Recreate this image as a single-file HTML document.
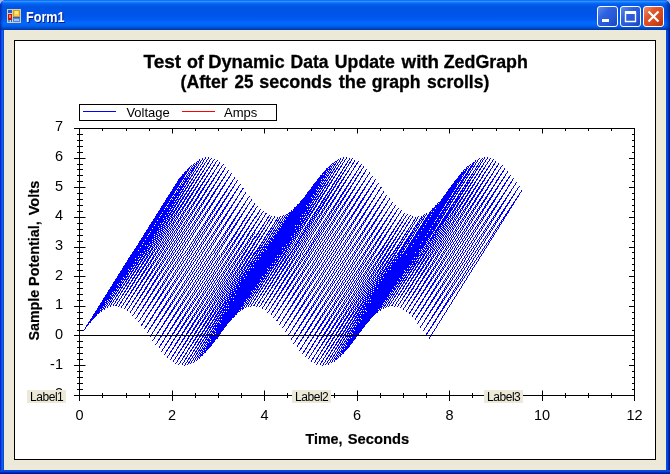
<!DOCTYPE html>
<html><head><meta charset="utf-8"><title>Form1</title>
<style>
html,body{margin:0;padding:0;background:#a3b5ee;}
body{width:670px;height:474px;overflow:hidden;position:relative;font-family:"Liberation Sans",sans-serif;}
#win{position:absolute;left:0;top:0;width:670px;height:474px;background:#0831d9;border-radius:6px 6px 0 0;overflow:hidden;}
#tb{position:absolute;left:0;top:0;width:670px;height:30px;border-radius:6px 6px 0 0;
background:linear-gradient(to bottom,#0058ee 0%,#3593ff 4%,#288eff 6%,#127dff 8%,#036ffc 10%,#0262ee 14%,#0057e5 20%,#0054e3 24%,#0055eb 56%,#005bf5 66%,#026afe 76%,#0062ef 86%,#0052d6 92%,#0046c0 95%,#0038a8 100%);}
#tb::after{content:'';position:absolute;right:0;top:0;width:5px;height:30px;background:linear-gradient(to right,rgba(0,30,150,0),rgba(0,25,140,.75));}
#tb::before{content:'';position:absolute;left:0;top:0;width:3px;height:30px;background:linear-gradient(to right,rgba(0,25,150,.7),rgba(0,30,150,0));}
#ttl{position:absolute;left:26px;top:9px;color:#fff;font-weight:bold;font-size:14px;line-height:16px;text-shadow:1px 1px 0 #0a1883;transform:scaleX(0.9);transform-origin:0 0;}
#client{position:absolute;left:4px;top:30px;width:662px;height:440px;background:#ece9d8;}
#bl{position:absolute;left:0;top:30px;width:4px;height:444px;background:linear-gradient(to right,#0019cf 0,#0831d9 25%,#166aee 50%,#0855dd 75%,#0046d5 100%);}
#br{position:absolute;right:0;top:30px;width:4px;height:444px;background:linear-gradient(to left,#00138c 0,#001ea0 25%,#0831d9 50%,#0855dd 75%,#0046d5 100%);}
#bb{position:absolute;left:0;bottom:0;width:670px;height:4px;background:linear-gradient(to top,#00138c 0,#001ea0 25%,#0831d9 50%,#0855dd 75%,#0046d5 100%);}
.btn{position:absolute;top:6px;width:21px;height:21px;box-sizing:border-box;border:1px solid #fff;border-radius:3px;
background:linear-gradient(135deg,#5a8cf0 0%,#2f62e0 35%,#2456d6 70%,#1a44c0 100%);}
#bmin{left:597px;} #bmax{left:620px;} 
#bcls{left:643px;background:linear-gradient(135deg,#ee9070 0%,#e0562c 35%,#d44418 70%,#b83008 100%);}
#panel{position:absolute;left:14px;top:40px;width:640px;height:418px;border:1px solid #000;background:#fff;}
svg{position:absolute;left:0;top:0;}
svg text{font-family:"Liberation Sans",sans-serif;fill:#000;}
.lbl{position:absolute;background:#ece9d8;color:#000;font-size:12px;line-height:15px;height:13px;overflow:hidden;padding:0 0 0 3px;letter-spacing:-0.45px;box-sizing:border-box;font-family:"Liberation Sans",sans-serif;}
</style></head><body>
<div id="win">
<div id="tb"></div>
<div id="bl"></div><div id="br"></div><div id="bb"></div>
<svg id="ico" width="14" height="14" viewBox="0 0 14 14" style="left:7px;top:9px">
<rect x="0.5" y="0.5" width="13" height="13" fill="#2a62d8" stroke="#d6cfb4"/>
<rect x="1" y="1" width="4" height="3" fill="#1c5ce0"/>
<rect x="5" y="1" width="1" height="12" fill="#d6cfb4"/>
<rect x="1" y="4" width="4" height="1" fill="#d6cfb4"/>
<rect x="6" y="1" width="7" height="7" fill="#d89c10"/>
<rect x="7" y="2" width="5" height="5" fill="#fcd040"/>
<rect x="8" y="2" width="3" height="3" fill="#ffe88c"/>
<rect x="1" y="5" width="4" height="6" fill="#c01808"/>
<rect x="2" y="6" width="2" height="3" fill="#f08070"/>
<rect x="6" y="9" width="7" height="4" fill="#4c84ec"/>
<rect x="7" y="10" width="5" height="2" fill="#a4c0f8"/>
<rect x="1" y="11" width="2" height="2" fill="#5088e8"/><rect x="3" y="11" width="1" height="2" fill="#d6cfb4"/>
</svg>
<div id="ttl">Form1</div>
<div class="btn" id="bmin"><svg width="19" height="19"><rect x="4" y="12" width="7" height="3" fill="#fff"/></svg></div>
<div class="btn" id="bmax"><svg width="19" height="19"><path d="M4.5 5.5H14.5V14.5H4.5Z" fill="none" stroke="#fff" stroke-width="1.4"/><rect x="4" y="4" width="11" height="3" fill="#fff"/></svg></div>
<div class="btn" id="bcls"><svg width="19" height="19"><path d="M4.5 4.5L14.5 14.5M14.5 4.5L4.5 14.5" stroke="#fff" stroke-width="2.2" fill="none"/></svg></div>
<div id="client"></div>
<div id="panel"></div>
<svg width="670" height="474" viewBox="0 0 670 474">
<rect x="79.5" y="128.5" width="555.0" height="267.0" fill="none" stroke="#000" stroke-width="1"/>
<path d="M79.5 390.5V401.0M79.5 128.5V133.5M102.5 393.0V398.0M102.5 128.5V131.0M126.5 393.0V398.0M126.5 128.5V131.0M149.5 393.0V398.0M149.5 128.5V131.0M172.5 390.5V401.0M172.5 128.5V133.5M195.5 393.0V398.0M195.5 128.5V131.0M218.5 393.0V398.0M218.5 128.5V131.0M241.5 393.0V398.0M241.5 128.5V131.0M264.5 390.5V401.0M264.5 128.5V133.5M287.5 393.0V398.0M287.5 128.5V131.0M311.5 393.0V398.0M311.5 128.5V131.0M334.5 393.0V398.0M334.5 128.5V131.0M357.5 390.5V401.0M357.5 128.5V133.5M380.5 393.0V398.0M380.5 128.5V131.0M403.5 393.0V398.0M403.5 128.5V131.0M426.5 393.0V398.0M426.5 128.5V131.0M449.5 390.5V401.0M449.5 128.5V133.5M472.5 393.0V398.0M472.5 128.5V131.0M496.5 393.0V398.0M496.5 128.5V131.0M519.5 393.0V398.0M519.5 128.5V131.0M542.5 390.5V401.0M542.5 128.5V133.5M565.5 393.0V398.0M565.5 128.5V131.0M588.5 393.0V398.0M588.5 128.5V131.0M611.5 393.0V398.0M611.5 128.5V131.0M634.5 390.5V401.0M634.5 128.5V133.5M74.0 128.5H85.5M629.0 128.5H634.5M77.0 134.5H83.0M632.0 134.5H634.5M77.0 140.5H83.0M632.0 140.5H634.5M77.0 146.5H83.0M632.0 146.5H634.5M77.0 152.5H83.0M632.0 152.5H634.5M74.0 158.5H85.5M629.0 158.5H634.5M77.0 164.5H83.0M632.0 164.5H634.5M77.0 169.5H83.0M632.0 169.5H634.5M77.0 175.5H83.0M632.0 175.5H634.5M77.0 181.5H83.0M632.0 181.5H634.5M74.0 187.5H85.5M629.0 187.5H634.5M77.0 193.5H83.0M632.0 193.5H634.5M77.0 199.5H83.0M632.0 199.5H634.5M77.0 205.5H83.0M632.0 205.5H634.5M77.0 211.5H83.0M632.0 211.5H634.5M74.0 217.5H85.5M629.0 217.5H634.5M77.0 223.5H83.0M632.0 223.5H634.5M77.0 229.5H83.0M632.0 229.5H634.5M77.0 235.5H83.0M632.0 235.5H634.5M77.0 241.5H83.0M632.0 241.5H634.5M74.0 247.5H85.5M629.0 247.5H634.5M77.0 252.5H83.0M632.0 252.5H634.5M77.0 258.5H83.0M632.0 258.5H634.5M77.0 264.5H83.0M632.0 264.5H634.5M77.0 270.5H83.0M632.0 270.5H634.5M74.0 276.5H85.5M629.0 276.5H634.5M77.0 282.5H83.0M632.0 282.5H634.5M77.0 288.5H83.0M632.0 288.5H634.5M77.0 294.5H83.0M632.0 294.5H634.5M77.0 300.5H83.0M632.0 300.5H634.5M74.0 306.5H85.5M629.0 306.5H634.5M77.0 312.5H83.0M632.0 312.5H634.5M77.0 318.5H83.0M632.0 318.5H634.5M77.0 324.5H83.0M632.0 324.5H634.5M77.0 330.5H83.0M632.0 330.5H634.5M74.0 335.5H85.5M629.0 335.5H634.5M77.0 341.5H83.0M632.0 341.5H634.5M77.0 347.5H83.0M632.0 347.5H634.5M77.0 353.5H83.0M632.0 353.5H634.5M77.0 359.5H83.0M632.0 359.5H634.5M74.0 365.5H85.5M629.0 365.5H634.5M77.0 371.5H83.0M632.0 371.5H634.5M77.0 377.5H83.0M632.0 377.5H634.5M77.0 383.5H83.0M632.0 383.5H634.5M77.0 389.5H83.0M632.0 389.5H634.5M74.0 395.5H85.5M629.0 395.5H634.5" stroke="#000" stroke-width="1" fill="none"/>
<polyline points="177.2,181.5 83.8,330.6 180.1,177.7 86.7,326.8 183.0,174.1 89.6,323.2 185.9,170.8 92.5,319.9 188.8,167.7 95.3,316.8 191.6,164.9 98.2,314.0 194.5,162.5 101.1,311.6 197.4,160.5 104.0,309.6 200.3,159.0 106.8,308.1 203.1,157.9 109.7,307.0 206.0,157.3 112.6,306.4 208.9,157.2 115.5,306.3 211.8,157.6 118.3,306.7 214.6,158.6 121.2,307.7 217.5,160.0 124.1,309.0 220.4,161.8 127.0,310.9 223.3,164.1 129.8,313.2 226.1,166.7 132.7,315.8 229.0,169.7 135.6,318.8 231.9,173.0 138.5,322.1 234.8,176.5 141.3,325.6 237.6,180.2 144.2,329.3 240.5,184.0 147.1,333.1 243.4,187.9 150.0,337.0 246.3,191.7 152.8,340.8 249.1,195.5 155.7,344.6 252.0,199.1 158.6,348.2 254.9,202.5 161.5,351.6 257.8,205.6 164.3,354.7 260.6,208.5 167.2,357.5 263.5,210.9 170.1,360.0 266.4,212.9 173.0,362.0 269.3,214.5 175.8,363.6 272.1,215.7 178.7,364.8 275.0,216.3 181.6,365.4 277.9,216.5 184.5,365.6 280.8,216.1 187.3,365.2 283.6,215.3 190.2,364.3 286.5,213.9 193.1,363.0 289.4,212.1 196.0,361.2 292.3,209.9 198.8,359.0 295.1,207.3 201.7,356.4 298.0,204.3 204.6,353.4 300.9,201.1 207.5,350.2 303.8,197.6 210.3,346.7 306.7,193.9 213.2,343.0 309.5,190.1 216.1,339.2 312.4,186.3 219.0,335.4 315.3,182.4 221.9,331.5 318.2,178.7 224.7,327.7 321.0,175.0 227.6,324.1 323.9,171.6 230.5,320.7 326.8,168.4 233.4,317.5 329.7,165.6 236.2,314.7 332.5,163.1 239.1,312.2 335.4,161.0 242.0,310.1 338.3,159.3 244.9,308.4 341.2,158.1 247.7,307.2 344.0,157.4 250.6,306.5 346.9,157.2 253.5,306.3 349.8,157.5 256.4,306.6 352.7,158.3 259.2,307.4 355.5,159.6 262.1,308.7 358.4,161.3 265.0,310.4 361.3,163.5 267.9,312.6 364.2,166.0 270.7,315.1 367.0,168.9 273.6,318.0 369.9,172.2 276.5,321.3 372.8,175.6 279.4,324.7 375.7,179.3 282.2,328.4 378.5,183.1 285.1,332.2 381.4,186.9 288.0,336.0 384.3,190.8 290.9,339.9 387.2,194.6 293.7,343.6 390.0,198.2 296.6,347.3 392.9,201.7 299.5,350.8 395.8,204.9 302.4,354.0 398.7,207.8 305.2,356.9 401.5,210.3 308.1,359.4 404.4,212.5 311.0,361.6 407.3,214.2 313.9,363.3 410.2,215.4 316.7,364.5 413.0,216.2 319.6,365.3 415.9,216.5 322.5,365.6 418.8,216.2 325.4,365.3 421.7,215.5 328.2,364.6 424.5,214.3 331.1,363.4 427.4,212.6 334.0,361.7 430.3,210.5 336.9,359.6 433.2,208.0 339.8,357.1 436.1,205.1 342.6,354.2 438.9,201.9 345.5,351.0 441.8,198.5 348.4,347.6 444.7,194.9 351.3,343.9 447.6,191.1 354.1,340.2 450.4,187.2 357.0,336.3 453.3,183.4 359.9,332.5 456.2,179.6 362.8,328.7 459.1,175.9 365.6,325.0 461.9,172.4 368.5,321.5 464.8,169.2 371.4,318.3 467.7,166.3 374.3,315.3 470.6,163.7 377.1,312.7 473.4,161.5 380.0,310.5 476.3,159.7 382.9,308.8 479.2,158.4 385.8,307.5 482.1,157.5 388.6,306.6 484.9,157.2 391.5,306.3 487.8,157.4 394.4,306.5 490.7,158.0 397.3,307.1 493.6,159.2 400.1,308.3 496.4,160.8 403.0,309.9 499.3,162.9 405.9,312.0 502.2,165.4 408.8,314.4 505.1,168.2 411.6,317.3 507.9,171.3 414.5,320.4 510.8,174.7 417.4,323.8 513.7,178.4 420.3,327.5 516.6,182.1 423.1,331.2 519.4,186.0 426.0,335.1 522.3,189.8 428.9,338.9" fill="none" stroke="#0000ff" stroke-width="0.999" shape-rendering="crispEdges"/>
<path d="M79.5 335.5H634.5" stroke="#000" stroke-width="1"/>
<rect x="79.5" y="104.5" width="197" height="16" fill="#fff" stroke="#000"/>
<path d="M83 111.5H116" stroke="#0000ff"/>
<path d="M182 111.5H215" stroke="#ff0000"/>
<text x="126.4" y="117" font-size="13.5" textLength="43.4" lengthAdjust="spacingAndGlyphs">Voltage</text>
<text x="224" y="117" font-size="13.5" textLength="33.4" lengthAdjust="spacingAndGlyphs">Amps</text>
<text x="79.5" y="420" font-size="14.5" text-anchor="middle">0</text>
<text x="172.0" y="420" font-size="14.5" text-anchor="middle">2</text>
<text x="264.5" y="420" font-size="14.5" text-anchor="middle">4</text>
<text x="357.0" y="420" font-size="14.5" text-anchor="middle">6</text>
<text x="449.5" y="420" font-size="14.5" text-anchor="middle">8</text>
<text x="542.0" y="420" font-size="14.5" text-anchor="middle">10</text>
<text x="634.5" y="420" font-size="14.5" text-anchor="middle">12</text>
<text x="63" y="131.4" font-size="14.5" text-anchor="end">7</text>
<text x="63" y="161.1" font-size="14.5" text-anchor="end">6</text>
<text x="63" y="190.7" font-size="14.5" text-anchor="end">5</text>
<text x="63" y="220.4" font-size="14.5" text-anchor="end">4</text>
<text x="63" y="250.0" font-size="14.5" text-anchor="end">3</text>
<text x="63" y="279.6" font-size="14.5" text-anchor="end">2</text>
<text x="63" y="309.3" font-size="14.5" text-anchor="end">1</text>
<text x="63" y="338.9" font-size="14.5" text-anchor="end">0</text>
<text x="63" y="368.6" font-size="14.5" text-anchor="end">-1</text>
<text x="63" y="398.2" font-size="14.5" text-anchor="end">-2</text>
<text y="67.7" font-size="17.6" font-weight="bold" stroke="#000" stroke-width="0.3"><tspan x="143.5" textLength="37.69" lengthAdjust="spacingAndGlyphs">Test</tspan> <tspan x="186.94" textLength="16.87" lengthAdjust="spacingAndGlyphs">of</tspan> <tspan x="208.15" textLength="76.5" lengthAdjust="spacingAndGlyphs">Dynamic</tspan> <tspan x="290.61" textLength="37.88" lengthAdjust="spacingAndGlyphs">Data</tspan> <tspan x="334.87" textLength="59.87" lengthAdjust="spacingAndGlyphs">Update</tspan> <tspan x="401.59" textLength="37.41" lengthAdjust="spacingAndGlyphs">with</tspan> <tspan x="443.72" textLength="84.14" lengthAdjust="spacingAndGlyphs">ZedGraph</tspan></text>
<text y="87.6" font-size="17.6" font-weight="bold" stroke="#000" stroke-width="0.3"><tspan x="180.57" textLength="47.08" lengthAdjust="spacingAndGlyphs">(After</tspan> <tspan x="234.57" textLength="18.85" lengthAdjust="spacingAndGlyphs">25</tspan> <tspan x="259.34" textLength="72.69" lengthAdjust="spacingAndGlyphs">seconds</tspan> <tspan x="338.8" textLength="27.25" lengthAdjust="spacingAndGlyphs">the</tspan> <tspan x="371.65" textLength="48.9" lengthAdjust="spacingAndGlyphs">graph</tspan> <tspan x="426.95" textLength="62.28" lengthAdjust="spacingAndGlyphs">scrolls)</tspan></text>
<text y="443.7" font-size="15" font-weight="bold" stroke="#000" stroke-width="0.2"><tspan x="305.5" textLength="36.94" lengthAdjust="spacingAndGlyphs">Time,</tspan> <tspan x="347.77" textLength="61.33" lengthAdjust="spacingAndGlyphs">Seconds</tspan></text>
<text y="0" font-size="15" font-weight="bold" transform="translate(38.5 340.4) rotate(-90)" stroke="#000" stroke-width="0.2"><tspan x="-0.22" textLength="50.88" lengthAdjust="spacingAndGlyphs">Sample</tspan> <tspan x="54.5" textLength="64.75" lengthAdjust="spacingAndGlyphs">Potential,</tspan> <tspan x="125.1" textLength="34.59" lengthAdjust="spacingAndGlyphs">Volts</tspan></text>
</svg>
<div class="lbl" style="left:27px;top:390px;width:39px;">Label1</div>
<div class="lbl" style="left:292px;top:390px;width:39px;">Label2</div>
<div class="lbl" style="left:484px;top:390px;width:39px;">Label3</div>
</div>
</body></html>
